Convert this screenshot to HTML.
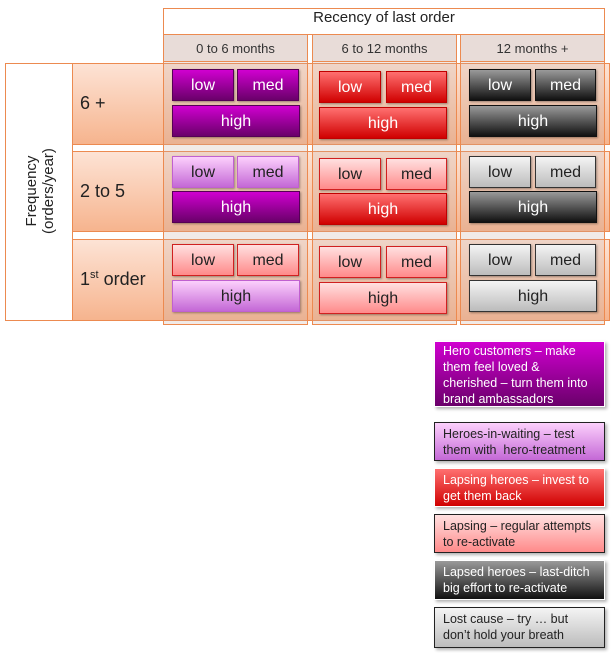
<!DOCTYPE html>
<html><head><meta charset="utf-8"><style>
*{box-sizing:border-box;margin:0;padding:0}
body{width:615px;height:653px;background:#fff;position:relative;font-family:"Liberation Sans",sans-serif;overflow:hidden}
.a{position:absolute}
.row{position:absolute;left:72px;width:538px;border:1px solid #ec8a50;background:linear-gradient(#fde3d5,#f6b48e)}
.col{position:absolute;top:34px;height:291px;width:145px;border:1px solid #ec8a50;background:rgba(200,170,160,0.25)}
.ch{position:absolute;top:34px;height:28px;width:145px;text-align:center;line-height:28px;font-size:13px;color:#333;background:#e8dcd8;border:1px solid #ec8a50}
.rl{position:absolute;left:80px;font-size:18px;color:#222}
.b{position:absolute;height:32px;text-align:center;line-height:31px;font-size:16px;border:1px solid;box-shadow:1px 1px 2px rgba(0,0,0,.35)}
.dm{background:linear-gradient(#d000d0,#6a006a);color:#fff;border-color:#550055}
.lm{background:linear-gradient(#fcd0fc,#c468d6);color:#222;border-color:#c060d0}
.r{background:linear-gradient(#ff7070,#d00000);color:#fff;border-color:#c00000}
.lr{background:linear-gradient(#ffe0e0,#ff8a8a);color:#222;border-color:#d02020}
.dg{background:linear-gradient(#9a9a9a,#111);color:#fff;border-color:#111}
.lg{background:linear-gradient(#f4f4f4,#bcbcbc);color:#222;border-color:#333}
.lgd{position:absolute;left:434px;width:171px;font-size:12.5px;line-height:16px;padding:3px 8px;border:1px solid;box-shadow:2px 2px 3px rgba(0,0,0,.3);white-space:nowrap}
</style></head><body>
<div class="a" style="left:163px;top:8px;width:442px;height:27px;border:1px solid #ec8a50;text-align:center;font-size:15px;color:#222;line-height:18px">Recency of last order</div>
<div class="a" style="left:5px;top:63px;width:68px;height:258px;border:1px solid #ec8a50"></div>
<div class="a" style="left:10px;top:192px;width:60px;height:0"><div style="position:absolute;left:-100px;top:-18px;width:260px;transform:rotate(-90deg);text-align:center;font-size:15px;line-height:17px;color:#222">Frequency<br>(orders/year)</div></div>
<div class="row" style="top:63px;height:82px"></div>
<div class="row" style="top:151px;height:81px"></div>
<div class="row" style="top:239px;height:82px"></div>
<div class="rl" style="top:93px">6 +</div>
<div class="rl" style="top:181px">2 to 5</div>
<div class="rl" style="top:269px">1<sup style="font-size:11px">st</sup> order</div>
<div class="col" style="left:163px"></div><div class="col" style="left:312px"></div><div class="col" style="left:460px"></div>
<div class="ch" style="left:163px">0 to 6 months</div><div class="ch" style="left:312px">6 to 12 months</div><div class="ch" style="left:460px">12 months +</div>

<div class="b dm" style="left:172px;top:69px;width:62px">low</div><div class="b dm" style="left:237px;top:69px;width:62px">med</div><div class="b dm" style="left:172px;top:105px;width:128px">high</div>
<div class="b lm" style="left:172px;top:156px;width:62px">low</div><div class="b lm" style="left:237px;top:156px;width:62px">med</div><div class="b dm" style="left:172px;top:191px;width:128px">high</div>
<div class="b lr" style="left:172px;top:244px;width:62px">low</div><div class="b lr" style="left:237px;top:244px;width:62px">med</div><div class="b lm" style="left:172px;top:280px;width:128px">high</div>

<div class="b r" style="left:319px;top:71px;width:62px">low</div><div class="b r" style="left:386px;top:71px;width:61px">med</div><div class="b r" style="left:319px;top:107px;width:128px">high</div>
<div class="b lr" style="left:319px;top:158px;width:62px">low</div><div class="b lr" style="left:386px;top:158px;width:61px">med</div><div class="b r" style="left:319px;top:193px;width:128px">high</div>
<div class="b lr" style="left:319px;top:246px;width:62px">low</div><div class="b lr" style="left:386px;top:246px;width:61px">med</div><div class="b lr" style="left:319px;top:282px;width:128px">high</div>

<div class="b dg" style="left:469px;top:69px;width:62px">low</div><div class="b dg" style="left:535px;top:69px;width:61px">med</div><div class="b dg" style="left:469px;top:105px;width:128px">high</div>
<div class="b lg" style="left:469px;top:156px;width:62px">low</div><div class="b lg" style="left:535px;top:156px;width:61px">med</div><div class="b dg" style="left:469px;top:191px;width:128px">high</div>
<div class="b lg" style="left:469px;top:244px;width:62px">low</div><div class="b lg" style="left:535px;top:244px;width:61px">med</div><div class="b lg" style="left:469px;top:280px;width:128px">high</div>

<div class="lgd dm" style="top:341px;height:66px;padding-top:1px">Hero customers – make<br>them feel loved &amp;<br>cherished – turn them into<br>brand ambassadors</div>
<div class="lgd lm" style="top:422px;height:39px">Heroes-in-waiting – test<br>them with &nbsp;hero-treatment</div>
<div class="lgd r" style="top:468px;height:39px">Lapsing heroes – invest to<br>get them back</div>
<div class="lgd lr" style="top:514px;height:39px">Lapsing – regular attempts<br>to re-activate</div>
<div class="lgd dg" style="top:560px;height:40px">Lapsed heroes – last-ditch<br>big effort to re-activate</div>
<div class="lgd lg" style="top:607px;height:41px">Lost cause – try … but<br>don’t hold your breath</div>
</body></html>
